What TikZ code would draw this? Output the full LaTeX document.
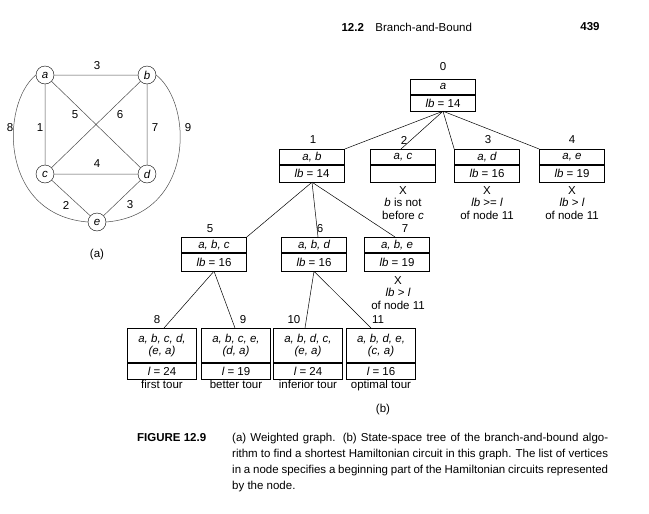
\documentclass[tikz,border=0pt]{standalone}
\usepackage{fontspec}
\setmainfont{Liberation Sans}
\begin{document}
\begin{tikzpicture}[x=1pt,y=-1pt,font=\fontsize{11.5}{12.5}\selectfont,
 vert/.style={circle,draw,inner sep=0pt,minimum size=18pt,font=\fontsize{11.5}{12}\selectfont\itshape},
 gedge/.style={draw=black!70,line width=0.5pt},
 box/.style={draw,line width=0.6pt,minimum width=65pt,inner sep=1pt,align=center},
 bbox/.style={box,minimum width=69pt},
 lbl/.style={inner sep=1pt},
 tedge/.style={line width=0.5pt}]
\useasboundingbox (0,0) rectangle (649,514);
% header
\node[anchor=west] (hd) at (338,27) {\textbf{12.2}\quad Branch-and-Bound};
\node (pg) at (590,27) {\textbf{439}};
% graph
\node[vert] (a) at (45,75) {a};
\node[vert] (b) at (147,75) {b};
\node[vert] (c) at (45,174) {c};
\node[vert] (d) at (147,174) {d};
\node[vert] (e) at (97,222) {e};
\draw[gedge] (a)--(b) (a)--(c) (a)--(d) (b)--(c) (b)--(d) (c)--(d) (c)--(e) (d)--(e);
\draw[gedge] (a.west) .. controls (0,105) and (0,215) .. (e.west);
\draw[gedge] (b.east) .. controls (194,105) and (194,215) .. (e.east);
\node (w1) at (97,66) {3}; \node (w2) at (10,128) {8}; \node (w3) at (40,128) {1};
\node (w4) at (75,115) {5}; \node (w5) at (120,115) {6}; \node (w6) at (155,128) {7};
\node (w7) at (188,128) {9}; \node (w8) at (97,164) {4}; \node (w9) at (66,205) {2};
\node (w10) at (130,205) {3};
\node[font=\fontsize{11.5}{12}\selectfont\rmfamily] (capa) at (97,255) {(a)};
% tree
\newcommand{\tn}[6]{%
 \node[box,minimum height=15pt,anchor=north] (#1t) at (#2,#3) {#4};
 \node[box,minimum height=#6pt,anchor=north] (#1b) at (#1t.south) {#5};}
\tn{n0}{443}{79}{\itshape a}{\itshape lb\upshape\ = 14}{16}
\tn{n1}{312}{149}{\itshape a, b}{\itshape lb\upshape\ = 14}{17}
\tn{n2}{403}{149}{\itshape a, c}{}{17}
\tn{n3}{487}{149}{\itshape a, d}{\itshape lb\upshape\ = 16}{17}
\tn{n4}{572}{149}{\itshape a, e}{\itshape lb\upshape\ = 19}{17}
\tn{n5}{214}{237}{\itshape a, b, c}{\itshape lb\upshape\ = 16}{18}
\tn{n6}{314}{237}{\itshape a, b, d}{\itshape lb\upshape\ = 16}{18}
\tn{n7}{397}{237}{\itshape a, b, e}{\itshape lb\upshape\ = 19}{18}
\newcommand{\leafn}[6]{%
 \node[bbox,minimum height=34pt,anchor=north] (#1t) at (#2,#3) {#4};
 \node[bbox,minimum height=16pt,anchor=north] (#1b) at (#1t.south) {#5};
 \node[anchor=north,inner sep=1pt] (#1c) at (#1b.south) {#6};}
\leafn{n8}{162}{328}{\itshape a, b, c, d,\\\itshape(e, a)}{\itshape l\upshape\ = 24}{first tour}
\leafn{n9}{236}{328}{\itshape a, b, c, e,\\\itshape(d, a)}{\itshape l\upshape\ = 19}{better tour}
\leafn{n10}{308}{328}{\itshape a, b, d, c,\\\itshape(e, a)}{\itshape l\upshape\ = 24}{inferior tour}
\leafn{n11}{381}{328}{\itshape a, b, d, e,\\\itshape(c, a)}{\itshape l\upshape\ = 16}{optimal tour}
% labels
\node[lbl] (l0) at (443,67) {0};
\node[lbl] (l1) at (313,140) {1}; \node[lbl] (l2) at (404,140) {2};
\node[lbl] (l3) at (488,140) {3}; \node[lbl] (l4) at (572,140) {4};
\node[lbl] (l5) at (210,229) {5}; \node[lbl] (l6) at (320,229) {6}; \node[lbl] (l7) at (405,229) {7};
\node[lbl] (l8) at (157,320) {8}; \node[lbl] (l9) at (243,320) {9};
\node[lbl] (l10) at (294,320) {10}; \node[lbl] (l11) at (378,320) {11};
% edges
\coordinate (p0) at (n0b.south);
\draw[tedge] (p0)--(n1t.north east) (p0)--([xshift=-2pt]n2t.north) (p0)--(n3t.north west) (p0)--(n4t.north west);
\draw[tedge] (n1b.south)--(n5t.north east) (n1b.south)--([xshift=4pt]n6t.north) (n1b.south)--([xshift=-2pt]n7t.north);
\draw[tedge] (n5b.south)--([xshift=2pt]n8t.north) (n5b.south)--([xshift=-1pt]n9t.north);
\draw[tedge] (n6b.south)--([xshift=-3pt]n10t.north) (n6b.south)--([xshift=-10pt]n11t.north);
% annotations
\node[align=center,inner sep=0pt,anchor=north] (x2) at (403,186) {X\\\itshape b\upshape\ is not\\before \itshape c};
\node[align=center,inner sep=0pt,anchor=north] (x3) at (487,186) {X\\\itshape lb\upshape\ >= \itshape l\\\upshape of node 11};
\node[align=center,inner sep=0pt,anchor=north] (x4) at (572,186) {X\\\itshape lb\upshape\ > \itshape l\\\upshape of node 11};
\node[align=center,inner sep=0pt,anchor=north] (x7) at (398,276) {X\\\itshape lb\upshape\ > \itshape l\\\upshape of node 11};
\node[font=\fontsize{11.5}{12}\selectfont\rmfamily] (capb) at (383,410) {(b)};
% caption
\node[anchor=north west,inner sep=0pt] (fig) at (137,433) {\textbf{FIGURE 12.9}};
\node[anchor=north west,inner sep=0pt,text width=376pt,align=justify,
 font=\fontsize{11.5}{16}\selectfont] (cap) at (232,433)
 {(a) Weighted graph. (b) State-space tree of the branch-and-bound algorithm to find a shortest Hamiltonian circuit in this graph. The list of vertices in a node specifies a beginning part of the Hamiltonian circuits represented by the node.};
\end{tikzpicture}
\end{document}
